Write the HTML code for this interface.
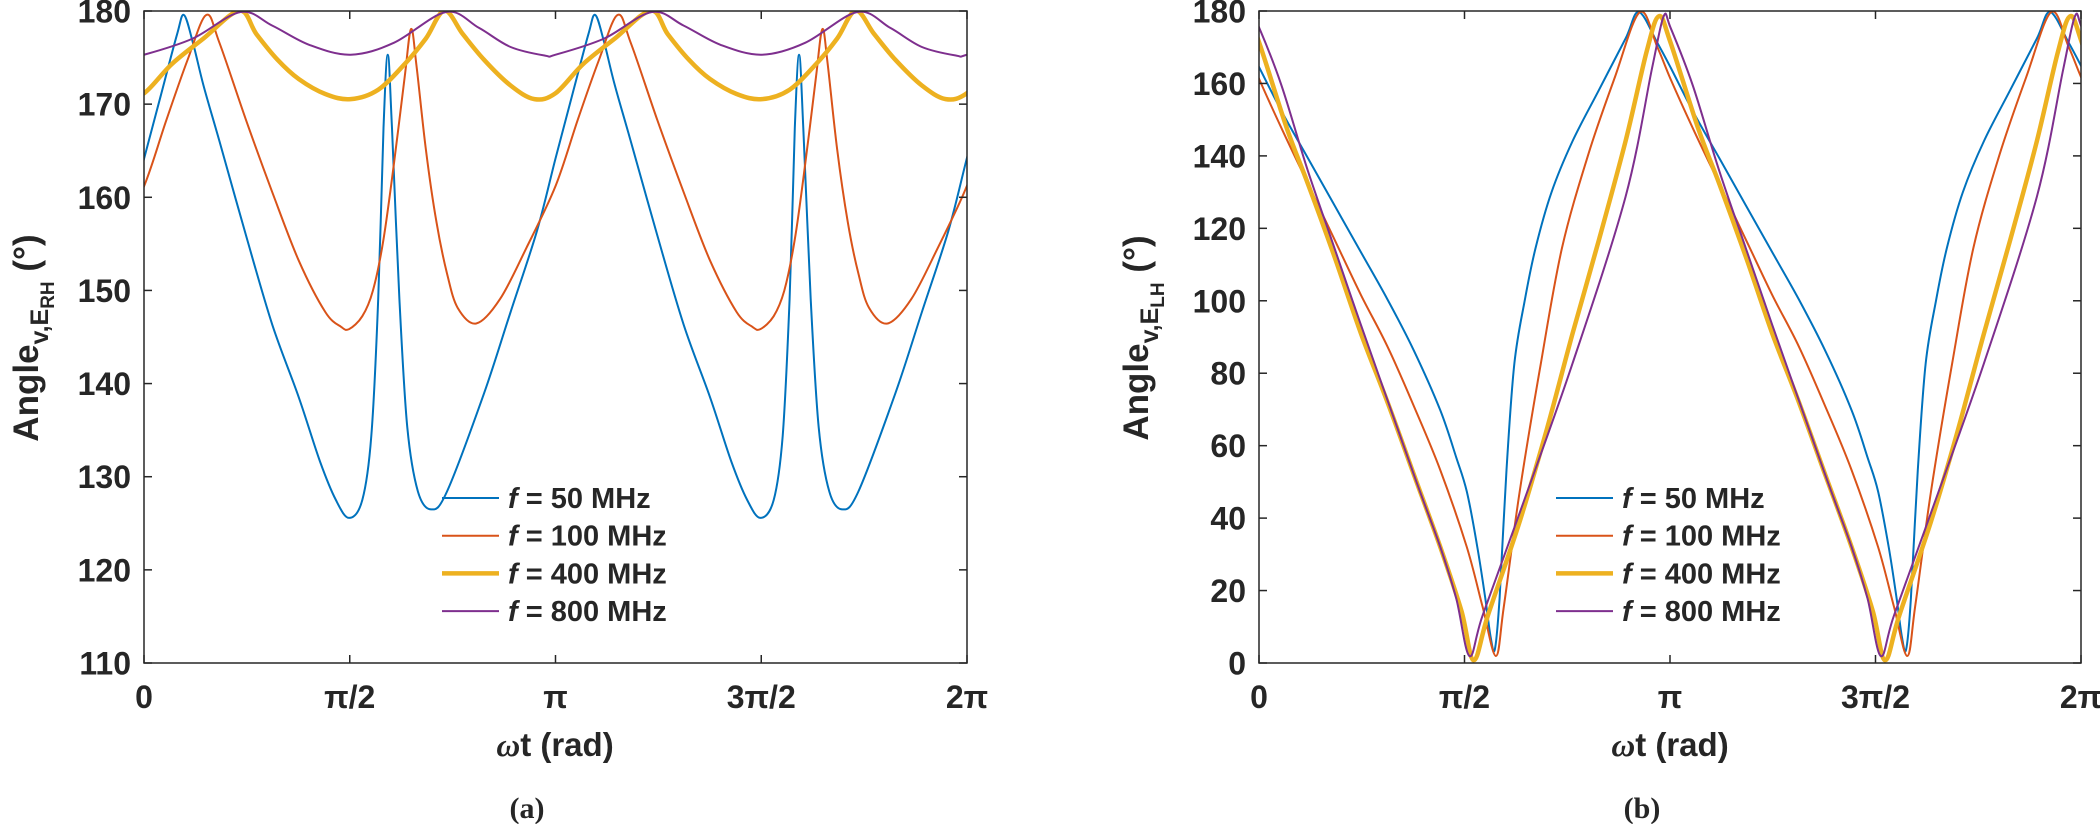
<!DOCTYPE html>
<html><head><meta charset="utf-8"><style>
html,body{margin:0;padding:0;background:#fff;}
svg{display:block;}
text{font-family:"Liberation Sans",Arial,sans-serif;font-weight:bold;fill:#262626;}
</style></head><body>
<svg id="s" width="2100" height="824" viewBox="0 0 2100 824" xmlns="http://www.w3.org/2000/svg">
<defs>
<clipPath id="cL"><rect x="144" y="11" width="823" height="652"/></clipPath>
<clipPath id="cR"><rect x="1259" y="11" width="822" height="652"/></clipPath>
</defs>
<g id="plots"></g>
<text transform="translate(38,338) rotate(-90)" text-anchor="middle" font-size="35">Angle<tspan font-size="25" dy="10">v,E</tspan><tspan font-size="19" dy="6">RH</tspan><tspan dy="-16">  (°)</tspan></text>
<text x="555" y="756" text-anchor="middle" font-size="33"><tspan font-style="italic" font-family="Liberation Serif">ω</tspan>t  (rad)</text>
<text x="527" y="818" text-anchor="middle" font-size="30" style="font-family:'Liberation Serif',serif">(a)</text>
<text transform="translate(1148,338) rotate(-90)" text-anchor="middle" font-size="35">Angle<tspan font-size="25" dy="10">v,E</tspan><tspan font-size="19" dy="6">LH</tspan><tspan dy="-16">  (°)</tspan></text>
<text x="1670" y="756" text-anchor="middle" font-size="33"><tspan font-style="italic" font-family="Liberation Serif">ω</tspan>t  (rad)</text>
<text x="1642" y="818" text-anchor="middle" font-size="30" style="font-family:'Liberation Serif',serif">(b)</text>
</svg>
<script>
var NS="http://www.w3.org/2000/svg",G=document.getElementById("plots");
function el(t,a,p){var e=document.createElementNS(NS,t);for(var k in a)e.setAttribute(k,a[k]);(p||G).appendChild(e);return e;}
function txt(x,y,s,a){var e=el("text",Object.assign({x:x,y:y},a||{}));e.textContent=s;return e;}
var cols=["#0072BD","#D95319","#EDB120","#7E2F8E"],wid=[2,2,4.5,2];
var L={ox:140,x0:144,x1:967},R={ox:1255,x0:1259,x1:2081};
function path(pts){var d="M"+pts[0][0]+","+pts[0][1];
 for(var i=0;i<pts.length-1;i++){var p0=pts[i-1]||pts[i],p1=pts[i],p2=pts[i+1],p3=pts[i+2]||p2;
  var t=6;d+=" C"+(p1[0]+(p2[0]-p0[0])/t).toFixed(1)+","+(p1[1]+(p2[1]-p0[1])/t).toFixed(1)+" "+(p2[0]-(p3[0]-p1[0])/t).toFixed(1)+","+(p2[1]-(p3[1]-p1[1])/t).toFixed(1)+" "+p2[0].toFixed(1)+","+p2[1].toFixed(1);}
 return d;}
function series(P,ox,clip,col,w){var pts=[];
 for(var k=-1;k<=2;k++){for(var i=(k==-1?0:1);i<P.length;i++){pts.push([ox+(P[i][0]+777*k)/1.889,P[i][1]/2.34]);}}
 el("path",{d:path(pts),fill:"none",stroke:col,"stroke-width":w,"clip-path":"url(#"+clip+")","stroke-linejoin":"round"});}
var LD=[
[[8,370],[40,220],[70,80],[83,35],[100,100],[120,200],[150,330],[200,550],[250,760],[300,930],[340,1080],[370,1170],[395,1212],[420,1170],[437,1020],[450,700],[460,300],[468,128],[476,300],[490,700],[505,1000],[525,1150],[550,1192],[580,1150],[650,920],[700,730],[750,540],[785,370]],
[[8,435],[50,280],[90,140],[125,35],[150,100],[200,280],[250,450],[300,610],[350,730],[380,765],[395,770],[420,740],[440,680],[460,560],[480,380],[500,180],[512,68],[522,150],[540,350],[560,520],[580,640],[600,720],[635,757],[680,700],[730,580],[785,435]],
[[8,218],[60,150],[120,90],[188,25],[220,80],[260,140],[300,185],[350,220],[398,232],[450,210],[500,150],[540,90],[575,25],[610,80],[650,140],[700,200],[745,232],[785,218]],
[[8,128],[100,90],[190,28],[250,60],[320,105],[398,128],[480,100],[578,28],[640,65],[700,110],[765,130],[785,128]]];
var RD=[
[[8,158],[50,260],[100,370],[150,480],[200,590],[250,700],[300,820],[350,960],[380,1070],[400,1150],[420,1280],[435,1400],[445,1490],[453,1520],[462,1400],[475,1100],[490,850],[510,700],[530,580],[560,450],[600,330],[650,210],[700,90],[725,28],[760,100],[785,158]],
[[8,185],[50,300],[100,430],[150,560],[200,690],[250,810],[300,950],[350,1100],[400,1280],[430,1420],[455,1535],[470,1420],[500,1150],[540,850],[580,580],[630,360],[680,180],[727,28],[760,110],[785,185]],
[[8,100],[60,300],[100,430],[150,600],[200,780],[250,940],[300,1110],[350,1280],[390,1430],[413,1545],[440,1440],[500,1220],[550,1010],[600,780],[650,560],[700,330],[740,120],[763,38],[785,100]],
[[8,65],[50,200],[100,400],[150,580],[200,760],[300,1110],[350,1280],[380,1400],[405,1535],[430,1440],[500,1200],[600,850],[700,460],[750,160],[772,38],[785,65]]];
for(var i=0;i<4;i++){series(LD[i],L.ox,"cL",cols[i],wid[i]);series(RD[i],R.ox,"cR",cols[i],wid[i]);}
var xl=["0","π/2","π","3π/2","2π"];
function axes(A,yt){var y0=11,y1=663,w=A.x1-A.x0;
 el("rect",{x:A.x0,y:y0,width:w,height:y1-y0,fill:"none",stroke:"#262626","stroke-width":1.5});
 for(var k=0;k<5;k++){var x=A.x0+w*k/4;
  el("line",{x1:x,y1:y1,x2:x,y2:y1-8,stroke:"#262626","stroke-width":1.5});
  el("line",{x1:x,y1:y0,x2:x,y2:y0+8,stroke:"#262626","stroke-width":1.5});
  txt(x,708,xl[k],{"text-anchor":"middle","font-size":32});}
 for(var j=0;j<yt.length;j++){var y=y1-(y1-y0)*j/(yt.length-1);
  el("line",{x1:A.x0,y1:y,x2:A.x0+8,y2:y,stroke:"#262626","stroke-width":1.5});
  el("line",{x1:A.x1,y1:y,x2:A.x1-8,y2:y,stroke:"#262626","stroke-width":1.5});
  txt(A.x0-13,y+11.5,yt[j],{"text-anchor":"end","font-size":32});}}
axes(L,["110","120","130","140","150","160","170","180"]);
axes(R,["0","20","40","60","80","100","120","140","160","180"]);
var lg=["50","100","400","800"];
function legend(x){for(var i=0;i<4;i++){var y=498+37.7*i;
 el("line",{x1:x,y1:y,x2:x+57,y2:y,stroke:cols[i],"stroke-width":wid[i]});
 var t=txt(x+66,y+10,"",{"font-size":29,fill:"#000"});
 var a=el("tspan",{"font-style":"italic"},t);a.textContent="f";
 var b=el("tspan",{},t);b.textContent=" = "+lg[i]+" MHz";}}
legend(442);legend(1556);
</script>
</body></html>
